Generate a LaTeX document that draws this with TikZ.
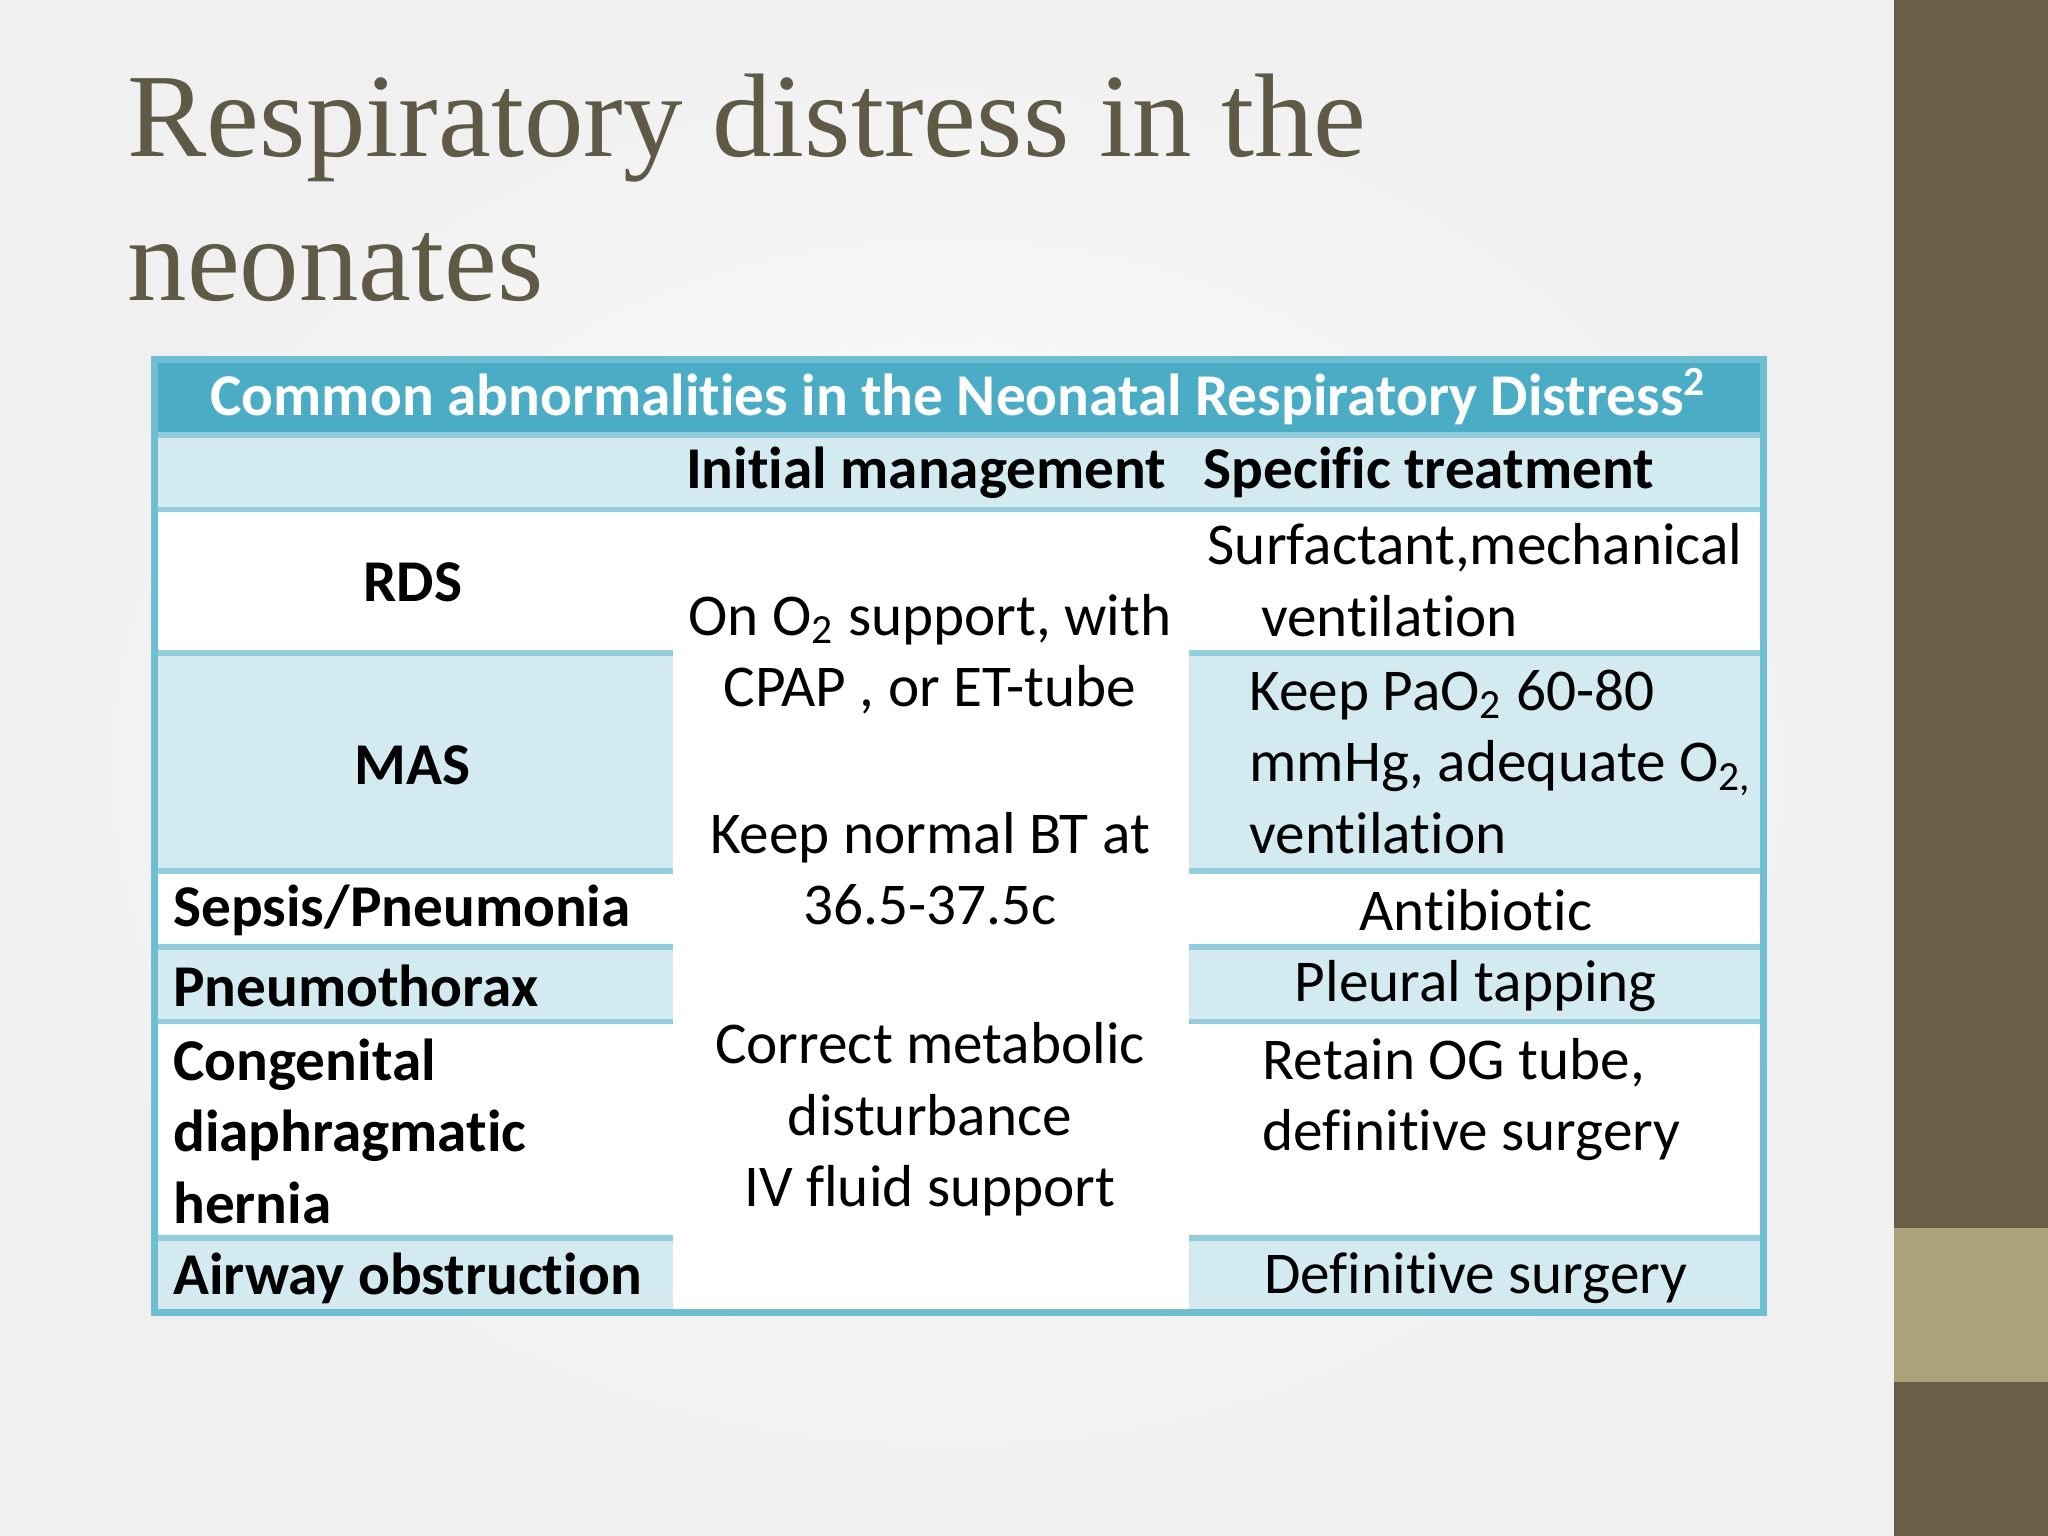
\documentclass[tikz,border=0pt]{standalone}
\usepackage{fontspec}
\setmainfont[Ligatures=NoCommon]{Carlito}
\newfontfamily\titlefont{Liberation Serif}
\definecolor{slidebrown}{HTML}{6B5E47}
\definecolor{slidekhaki}{HTML}{ABA27A}
\definecolor{titlegray}{HTML}{5F5A46}
\definecolor{hdblue}{HTML}{4BACC6}
\definecolor{bandblue}{HTML}{D3EAF1}
\begin{document}
\begin{tikzpicture}[x=0.01cm,y=-0.01cm,
  cell/.style={font=\fontsize{12.9}{16}\selectfont,align=center,inner sep=0pt},
  hcell/.style={cell,font=\fontsize{12.9}{16}\selectfont\bfseries},
  lcell/.style={cell,font=\fontsize{12.9}{16}\selectfont\bfseries,align=left,anchor=west}]
\useasboundingbox (0,0) rectangle (1568,1176);
\shade[inner color=white,outer color=gray!12] (0,0) rectangle (1450,1176);
\fill[slidebrown] (1450,0) rectangle (1568,1176);
\fill[slidekhaki] (1450,940) rectangle (1568,1058);

% title
\node[anchor=west,text=titlegray,font=\titlefont\fontsize{25.9}{32}\selectfont,inner sep=0pt] (title1) at (97,98) {Respiratory distress in the};
\node[anchor=west,text=titlegray,font=\titlefont\fontsize{25.9}{32}\selectfont,inner sep=0pt] (title2) at (97,205) {neonates};

% table bands
\fill[hdblue] (118,275) rectangle (1350,333);
\fill[bandblue] (118,333) rectangle (1350,390);
\fill[white] (118,390) rectangle (1350,1005);
\foreach \a/\b in {500/667,725/782,948/1005}
{\fill[bandblue] (118,\a) rectangle (515,\b);
 \fill[bandblue] (910,\a) rectangle (1350,\b);}
\foreach \y in {500,667,725,782,948}
{\draw[hdblue!60,line width=1.2pt] (118,\y) -- (515,\y);
 \draw[hdblue!60,line width=1.2pt] (910,\y) -- (1350,\y);}
\draw[hdblue!60,line width=1.2pt] (118,390) -- (1350,390);
\draw[hdblue!60,line width=1.2pt] (118,333) -- (1350,333);
\draw[hdblue!80,line width=1.5pt] (118,275) rectangle (1350,1005);

% header
\node[hcell,text=white] (head) at (734,304) {Common abnormalities in the Neonatal Respiratory Distress\textsuperscript{2}};
\node[hcell] (initial) at (709,362) {Initial management};
\node[hcell] (specific) at (1094,362) {Specific treatment};

% left column
\node[hcell] (rds) at (316,446) {RDS};
\node[hcell] (mas) at (316,586) {MAS};
\node[lcell] (sepsis) at (132,697) {Sepsis/Pneumonia};
\node[lcell] (ptx) at (132,755) {Pneumothorax};
\node[lcell,font=\fontsize{12.9}{15.6}\selectfont\bfseries] (cdh) at (132,866) {Congenital\\diaphragmatic\\hernia};
\node[lcell] (airway) at (132,979) {Airway obstruction};

% middle column
\node[cell,font=\fontsize{12.9}{15.6}\selectfont] (o2) at (712,501) {On O\textsubscript{2} support, with\\CPAP , or ET-tube};
\node[cell,font=\fontsize{12.9}{15.6}\selectfont] (bt) at (712,665) {Keep normal BT at\\36.5-37.5c};
\node[cell,font=\fontsize{12.9}{15.6}\selectfont] (metab) at (712,857) {Correct metabolic\\disturbance\\IV fluid support};

% right column
\node[cell,align=left,anchor=north west,font=\fontsize{12.9}{15.6}\selectfont] (surf) at (924,400) {Surfactant,mechanical\\\hspace{0.9em}ventilation};
\node[cell,align=left,anchor=north west,font=\fontsize{12.9}{15.6}\selectfont] (pao2) at (956,512) {Keep PaO\textsubscript{2} 60-80\\mmHg, adequate O\textsubscript{2,}\\ventilation};
\node[cell] (anti) at (1130,697) {Antibiotic};
\node[cell] (pleural) at (1130,755) {Pleural tapping};
\node[cell,align=left,anchor=north west,font=\fontsize{12.9}{15.6}\selectfont] (og) at (966,794) {Retain OG tube,\\definitive surgery};
\node[cell] (defsurg) at (1130,979) {Definitive surgery};
\end{tikzpicture}
\end{document}
